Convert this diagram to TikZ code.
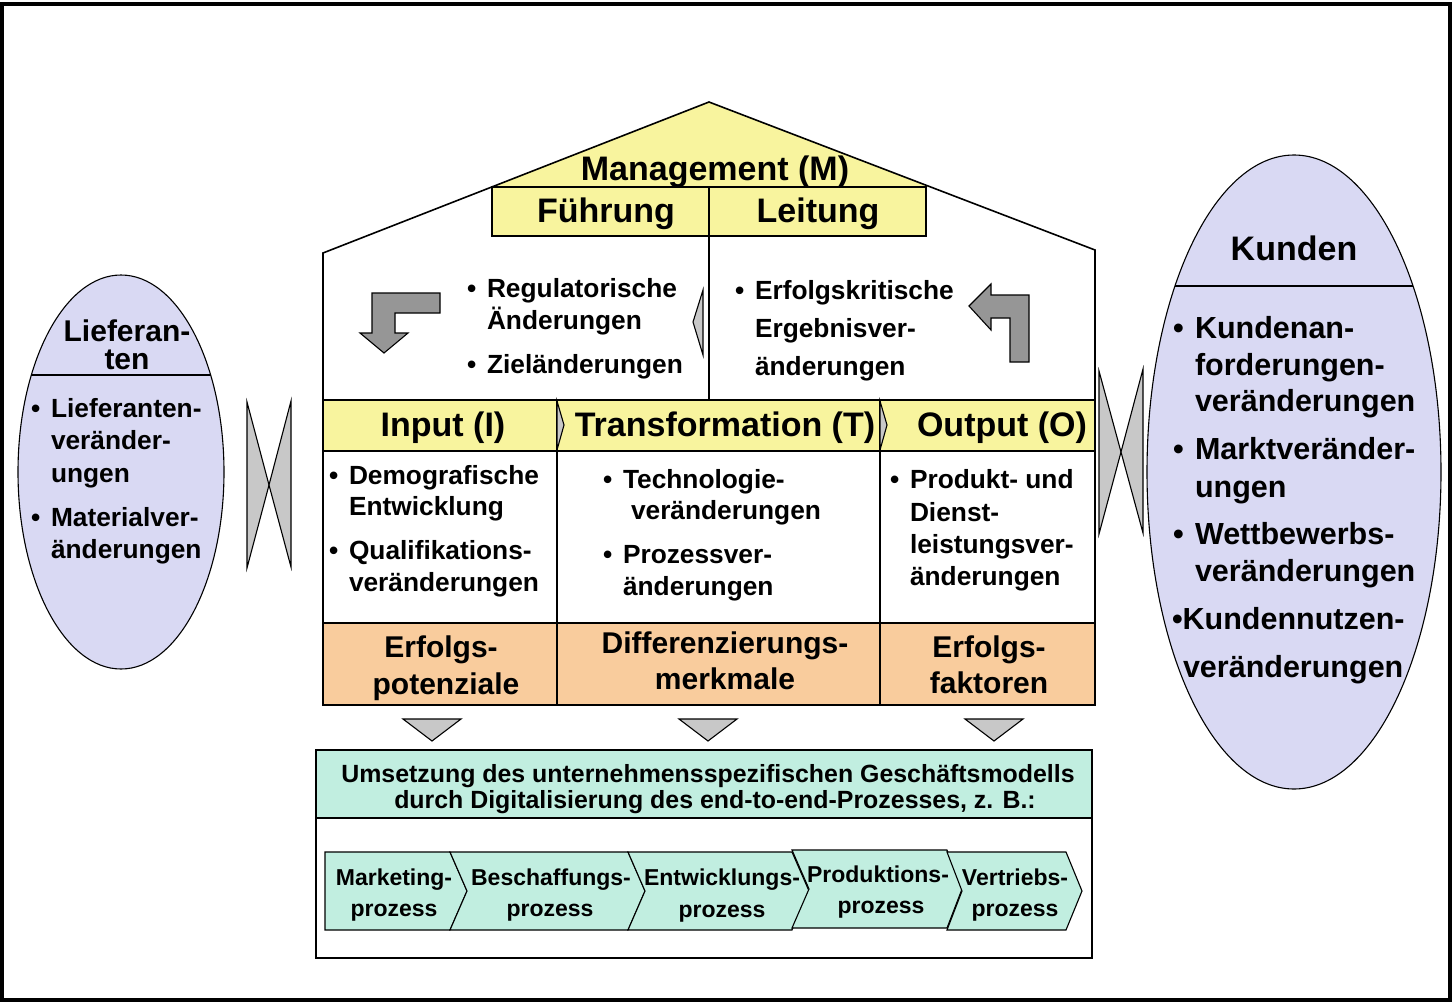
\documentclass[tikz,border=0pt]{standalone}
\usepackage{fontspec}
\setmainfont{Liberation Sans}
\definecolor{yel}{RGB}{248,244,158}
\definecolor{ora}{RGB}{249,204,157}
\definecolor{lav}{RGB}{217,217,243}
\definecolor{tea}{RGB}{193,238,224}
\definecolor{lgr}{RGB}{200,200,200}
\definecolor{dgr}{RGB}{150,150,150}
\begin{document}
\begin{tikzpicture}[x=1pt,y=-1pt,
  every node/.style={inner sep=0pt, outer sep=0pt},
  bx/.style={draw=black, line width=1.6pt},
  thin/.style={draw=black, line width=1.1pt},
  h33/.style={font=\fontsize{34}{36}\selectfont\bfseries},
  h30/.style={font=\fontsize{30}{34}\selectfont\bfseries},
  b26/.style={font=\fontsize{26.3}{30}\selectfont\bfseries},
  c24/.style={font=\fontsize{24.9}{28}\selectfont\bfseries},
  p23/.style={font=\fontsize{23}{26}\selectfont\bfseries},
  r30/.style={font=\fontsize{30.5}{34}\selectfont\bfseries},
  lw/.style={anchor=base west},
  cb/.style={anchor=base}]
\useasboundingbox (0,0) rectangle (1454,1004);
\draw[line width=4pt] (2,4) rectangle (1450,1000);

% ellipses
\draw[thin, fill=lav] (121,472) ellipse [x radius=103, y radius=197];
\draw[thin] (31,375) -- (211,375);
\draw[thin, fill=lav] (1294,472) ellipse [x radius=147, y radius=317];
\draw[thin] (1175,286) -- (1413,286);

% roof and house
\fill[yel] (709,102) -- (492,187) -- (929,187) -- cycle;
\draw[bx] (323,705) -- (323,253) -- (709,102) -- (1095,250) -- (1095,705);
\draw[bx, fill=yel] (492,187) rectangle (926,236);
\draw[bx] (709,187) -- (709,400);
\draw[bx, fill=yel] (323,400) rectangle (1095,451);
\draw[bx] (323,451) rectangle (1095,623);
\draw[bx, fill=ora] (323,623) rectangle (1095,705);
\draw[bx] (557,400) -- (557,705);
\draw[bx] (880,400) -- (880,705);
\draw[thin, fill=lgr] (557,401) -- (564,425) -- (557,450) -- cycle;
\draw[thin, fill=lgr] (880,401) -- (887,425) -- (880,450) -- cycle;

% bent arrows
\draw[thin, fill=dgr] (440,293) -- (372,293) -- (372,333) -- (360,333) -- (384,353) -- (408,333) -- (395,333) -- (395,313) -- (440,313) -- cycle;
\draw[thin, fill=dgr] (969,306) -- (991,284) -- (991,295) -- (1029,295) -- (1029,362) -- (1010,362) -- (1010,318) -- (991,318) -- (991,330) -- cycle;
\draw[thin, fill=lgr] (703,290) -- (693,322) -- (703,355) -- cycle;

% bowties
\draw[thin, fill=lgr] (247,402) -- (269,485) -- (247,568) -- cycle;
\draw[thin, fill=lgr] (291,401) -- (269,485) -- (291,567) -- cycle;
\draw[thin, fill=lgr] (1099,371) -- (1121,452) -- (1099,534) -- cycle;
\draw[thin, fill=lgr] (1143,369) -- (1121,452) -- (1143,533) -- cycle;

% down triangles
\foreach \cx in {432,708,994}{
  \draw[thin, fill=lgr] (\cx-29,719) -- (\cx+29,719) -- (\cx,741) -- cycle;
}

% bottom boxes
\draw[bx, fill=tea] (316,750) rectangle (1092,818);
\draw[bx] (316,818) rectangle (1092,958);

% process chevrons
\draw[thin, fill=tea] (325,852) -- (450,852) -- (467,891) -- (450,930) -- (325,930) -- cycle;
\draw[thin, fill=tea] (450,852) -- (628,852) -- (645,891) -- (628,930) -- (450,930) -- (467,891) -- cycle;
\draw[thin, fill=tea] (628,852) -- (792,852) -- (809,891) -- (792,930) -- (628,930) -- (645,891) -- cycle;
\draw[thin, fill=tea] (792,850) -- (947,850) -- (962,889) -- (947,928) -- (792,928) -- (809,889) -- cycle;
\draw[thin, fill=tea] (947,852) -- (1066,852) -- (1082,891) -- (1066,930) -- (947,930) -- (962,891) -- cycle;

% --- texts: house
\node[h33, cb] (mgmt) at (715,180) {Management (M)};
\node[h33, cb] (fuehr) at (606,222) {Führung};
\node[h33, cb] (leit) at (818,222) {Leitung};

\node[b26, lw] (bu1) at (467,297) {•};
\node[b26, lw] (reg1) at (487,297) {Regulatorische};
\node[b26, lw] (reg2) at (487,329) {Änderungen};
\node[b26, lw] (bu2) at (467,373) {•};
\node[b26, lw] (ziel) at (487,373) {Zieländerungen};

\node[b26, lw] (bu3) at (735,299) {•};
\node[b26, lw] (erf1) at (755,299) {Erfolgskritische};
\node[b26, lw] (erf2) at (755,337) {Ergebnisver-};
\node[b26, lw] (erf3) at (755,375) {änderungen};

\node[h33, cb] (inp) at (443,436) {Input (I)};
\node[h33, cb] (trf) at (725,436) {Transformation (T)};
\node[h33, cb] (outp) at (1002,436) {Output (O)};

\node[b26, lw] (bu4) at (329,484) {•};
\node[b26, lw] (dem1) at (349,484) {Demografische};
\node[b26, lw] (dem2) at (349,515) {Entwicklung};
\node[b26, lw] (bu5) at (329,559) {•};
\node[b26, lw] (qua1) at (349,559) {Qualifikations-};
\node[b26, lw] (qua2) at (349,591) {veränderungen};

\node[b26, lw] (bu6) at (603,488) {•};
\node[b26, lw] (tec1) at (623,488) {Technologie-};
\node[b26, lw] (tec2) at (631,519) {veränderungen};
\node[b26, lw] (bu7) at (603,563) {•};
\node[b26, lw] (pro1) at (623,563) {Prozessver-};
\node[b26, lw] (pro2) at (623,595) {änderungen};

\node[b26, lw] (bu8) at (890,488) {•};
\node[b26, lw] (prd1) at (910,488) {Produkt- und};
\node[b26, lw] (prd2) at (910,521) {Dienst-};
\node[b26, lw] (prd3) at (910,553) {leistungsver-};
\node[b26, lw] (prd4) at (910,585) {änderungen};

\node[h30, cb] (ep1) at (441,657) {Erfolgs-};
\node[h30, cb] (ep2) at (446,694) {potenziale};
\node[h30, cb] (dm1) at (725,653) {Differenzierungs-};
\node[h30, cb] (dm2) at (725,689) {merkmale};
\node[h30, cb] (ef1) at (989,657) {Erfolgs-};
\node[h30, cb] (ef2) at (989,693) {faktoren};

% --- bottom texts
\node[c24, cb] (ums1) at (708,782) {Umsetzung des unternehmensspezifischen Geschäftsmodells};
\node[c24, cb] (ums2) at (715,808) {durch Digitalisierung des end-to-end-Prozesses, z. B.:};

\node[p23, cb] (m1) at (394,885) {Marketing-};
\node[p23, cb] (m2) at (394,916) {prozess};
\node[p23, cb] (b1) at (551,885) {Beschaffungs-};
\node[p23, cb] (b2) at (550,916) {prozess};
\node[p23, cb] (e1) at (722,885) {Entwicklungs-};
\node[p23, cb] (e2) at (722,917) {prozess};
\node[p23, cb] (pp1) at (878,882) {Produktions-};
\node[p23, cb] (pp2) at (881,913) {prozess};
\node[p23, cb] (v1) at (1015,885) {Vertriebs-};
\node[p23, cb] (v2) at (1015,916) {prozess};

% --- left ellipse texts
\node[h30, cb] (lf1) at (127,341) {Lieferan-};
\node[h30, cb] (lf2) at (127,369) {ten};
\node[b26, lw] (lb1) at (31,417) {•};
\node[b26, lw] (li1) at (51,417) {Lieferanten-};
\node[b26, lw] (li2) at (51,449) {veränder-};
\node[b26, lw] (li3) at (51,482) {ungen};
\node[b26, lw] (lb2) at (31,526) {•};
\node[b26, lw] (li4) at (51,526) {Materialver-};
\node[b26, lw] (li5) at (51,558) {änderungen};

% --- right ellipse texts
\node[h33, cb] (kd) at (1294,260) {Kunden};
\node[r30, lw] (rb1) at (1173,338) {•};
\node[r30, lw] (ri1) at (1195,338) {Kundenan-};
\node[r30, lw] (ri2) at (1195,375) {forderungen-};
\node[r30, lw] (ri3) at (1195,411) {veränderungen};
\node[r30, lw] (rb2) at (1173,459) {•};
\node[r30, lw] (ri4) at (1195,459) {Marktveränder-};
\node[r30, lw] (ri5) at (1195,497) {ungen};
\node[r30, lw] (rb3) at (1173,544) {•};
\node[r30, lw] (ri6) at (1195,544) {Wettbewerbs-};
\node[r30, lw] (ri7) at (1195,581) {veränderungen};
\node[r30, lw] (ri8) at (1172,629) {•Kundennutzen-};
\node[r30, lw] (ri9) at (1183,677) {veränderungen};
\end{tikzpicture}
\end{document}
